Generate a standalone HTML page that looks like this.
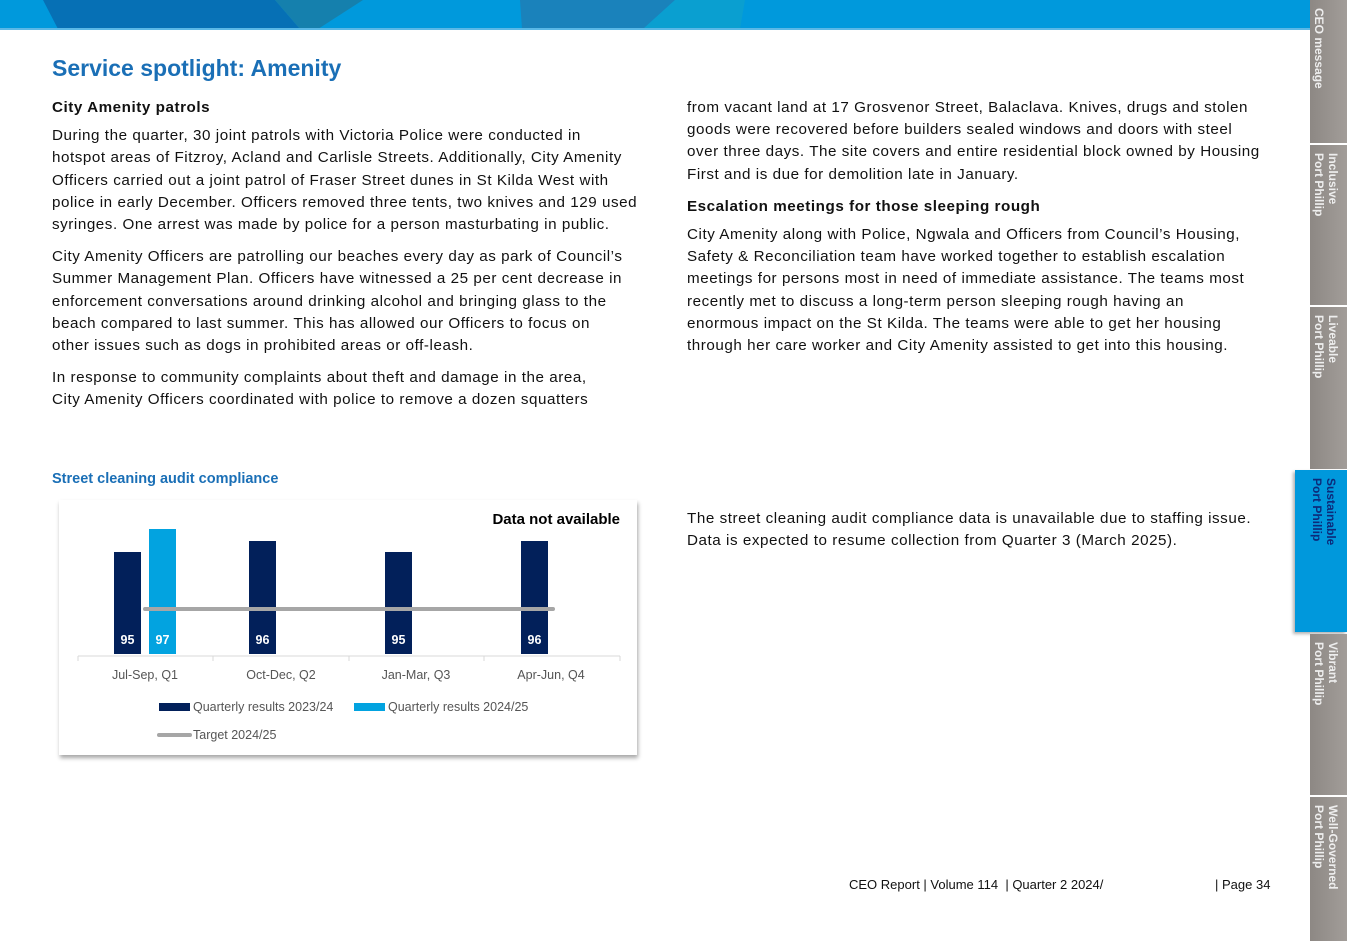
<!DOCTYPE html>
<html><head><meta charset="utf-8"><style>
body{margin:0;width:1347px;height:941px;position:relative;background:#fff;font-family:"Liberation Sans",sans-serif;color:#111;overflow:hidden}
.a{position:absolute}
p{margin:0;white-space:nowrap}
.t{font-size:15.2px;line-height:22.2px;letter-spacing:0.55px}
.tab{position:absolute;left:1310px;width:37px;background:linear-gradient(90deg,#8d8884,#a29d99);color:#eee;font-size:12px;font-weight:bold}
.tab span{position:absolute;left:2px;top:8px;writing-mode:vertical-rl;white-space:nowrap;line-height:14px}
</style></head><body>
<svg class="a" style="left:0;top:0" width="1347" height="30">
<rect width="1347" height="29" fill="#0099dc"/>
<polygon points="43,0 275,0 300,29 58,29" fill="#0670b5"/>
<polygon points="275,0 363,0 318,29 300,29" fill="#1580ad"/>
<polygon points="520,0 675,0 643,29 522,29" fill="#1a82bb"/>
<polygon points="675,0 745,0 740,29 643,29" fill="#0a9fd0"/>
<rect y="28" width="1347" height="2" fill="#5ab8e6"/>
</svg>
<div class="tab" style="top:0;height:143px"><span>CEO message</span></div>
<div class="tab" style="top:145px;height:160px"><span>Inclusive<br>Port Phillip</span></div>
<div class="tab" style="top:307px;height:162px"><span>Liveable<br>Port Phillip</span></div>
<div class="a" style="left:1295px;top:470px;width:52px;height:162px;background:#0098dc;box-shadow:-2px 2px 3px rgba(0,0,0,.3);color:#0c2a7a;font-size:12px;font-weight:bold"><span style="position:absolute;left:15px;top:8px;writing-mode:vertical-rl;line-height:14px;white-space:nowrap">Sustainable<br>Port Phillip</span></div>
<div class="tab" style="top:634px;height:161px"><span>Vibrant<br>Port Phillip</span></div>
<div class="tab" style="top:797px;height:144px"><span>Well-Governed<br>Port Phillip</span></div>

<div class="a" style="left:52px;top:55px;font-size:23px;font-weight:bold;color:#1a6fb6">Service spotlight: Amenity</div>
<div class="a t" style="left:52px;top:97px;width:600px">
<p style="font-weight:bold">City Amenity patrols</p>
<p style="margin-top:6px">During the quarter, 30 joint patrols with Victoria Police were conducted in<br>hotspot areas of Fitzroy, Acland and Carlisle Streets. Additionally, City Amenity<br>Officers carried out a joint patrol of Fraser Street dunes in St Kilda West with<br>police in early December. Officers removed three tents, two knives and 129 used<br>syringes. One arrest was made by police for a person masturbating in public.</p>
<p style="margin-top:10px">City Amenity Officers are patrolling our beaches every day as park of Council’s<br>Summer Management Plan. Officers have witnessed a 25 per cent decrease in<br>enforcement conversations around drinking alcohol and bringing glass to the<br>beach compared to last summer. This has allowed our Officers to focus on<br>other issues such as dogs in prohibited areas or off-leash.</p>
<p style="margin-top:10px">In response to community complaints about theft and damage in the area,<br>City Amenity Officers coordinated with police to remove a dozen squatters</p>
</div>
<div class="a t" style="left:687px;top:97px;width:590px">
<p>from vacant land at 17 Grosvenor Street, Balaclava. Knives, drugs and stolen<br>goods were recovered before builders sealed windows and doors with steel<br>over three days. The site covers and entire residential block owned by Housing<br>First and is due for demolition late in January.</p>
<p style="margin-top:10px;font-weight:bold">Escalation meetings for those sleeping rough</p>
<p style="margin-top:6px">City Amenity along with Police, Ngwala and Officers from Council’s Housing,<br>Safety &amp; Reconciliation team have worked together to establish escalation<br>meetings for persons most in need of immediate assistance. The teams most<br>recently met to discuss a long-term person sleeping rough having an<br>enormous impact on the St Kilda. The teams were able to get her housing<br>through her care worker and City Amenity assisted to get into this housing.</p>
</div>
<div class="a" style="left:52px;top:471px;font-size:14.5px;font-weight:bold;color:#1a6fb6">Street cleaning audit compliance</div>
<div class="a t" style="left:687px;top:508px;width:640px"><p>The street cleaning audit compliance data is unavailable due to staffing issue.<br>Data is expected to resume collection from Quarter 3 (March 2025).</p></div>

<div class="a" style="left:59px;top:500px;width:578px;height:255px;background:#fff;box-shadow:1px 3px 4px rgba(0,0,0,.35)"></div>
<svg class="a" style="left:50px;top:495px" width="600" height="270" font-family="Liberation Sans, sans-serif">
<text x="570" y="29" text-anchor="end" font-size="15" font-weight="bold" fill="#000">Data not available</text>
<rect x="64" y="57" width="27" height="102" fill="#02205a"/>
<rect x="99" y="34" width="27" height="125" fill="#02a3e0"/>
<rect x="199" y="46" width="27" height="113" fill="#02205a"/>
<rect x="335" y="57" width="27" height="102" fill="#02205a"/>
<rect x="471" y="46" width="27" height="113" fill="#02205a"/>
<line x1="95" y1="114" x2="503" y2="114" stroke="#a6a6a6" stroke-width="4" stroke-linecap="round"/>
<g font-size="12.5" font-weight="bold" fill="#fff" text-anchor="middle">
<text x="77.5" y="149">95</text><text x="112.5" y="149">97</text><text x="212.5" y="149">96</text><text x="348.5" y="149">95</text><text x="484.5" y="149">96</text></g>
<line x1="28" y1="161" x2="570" y2="161" stroke="#d9d9d9"/>
<g stroke="#d9d9d9"><line x1="28" y1="161" x2="28" y2="166"/><line x1="163" y1="161" x2="163" y2="166"/><line x1="299" y1="161" x2="299" y2="166"/><line x1="434" y1="161" x2="434" y2="166"/><line x1="570" y1="161" x2="570" y2="166"/></g>
<g font-size="12.5" fill="#555" text-anchor="middle">
<text x="95" y="184">Jul-Sep, Q1</text><text x="231" y="184">Oct-Dec, Q2</text><text x="366" y="184">Jan-Mar, Q3</text><text x="501" y="184">Apr-Jun, Q4</text></g>
<rect x="109" y="208" width="31" height="8" fill="#02205a"/>
<text x="143" y="216" font-size="12.5" fill="#555">Quarterly results 2023/24</text>
<rect x="304" y="208" width="31" height="8" fill="#02a3e0"/>
<text x="338" y="216" font-size="12.5" fill="#555">Quarterly results 2024/25</text>
<line x1="109" y1="240" x2="140" y2="240" stroke="#a6a6a6" stroke-width="4" stroke-linecap="round"/>
<text x="143" y="244" font-size="12.5" fill="#555">Target 2024/25</text>
</svg>
<div class="a" style="left:849px;top:877px;font-size:13px">CEO Report | Volume 114 &nbsp;| Quarter 2 2024/</div>
<div class="a" style="left:1215px;top:877px;font-size:13px">| Page 34</div>
</body></html>
